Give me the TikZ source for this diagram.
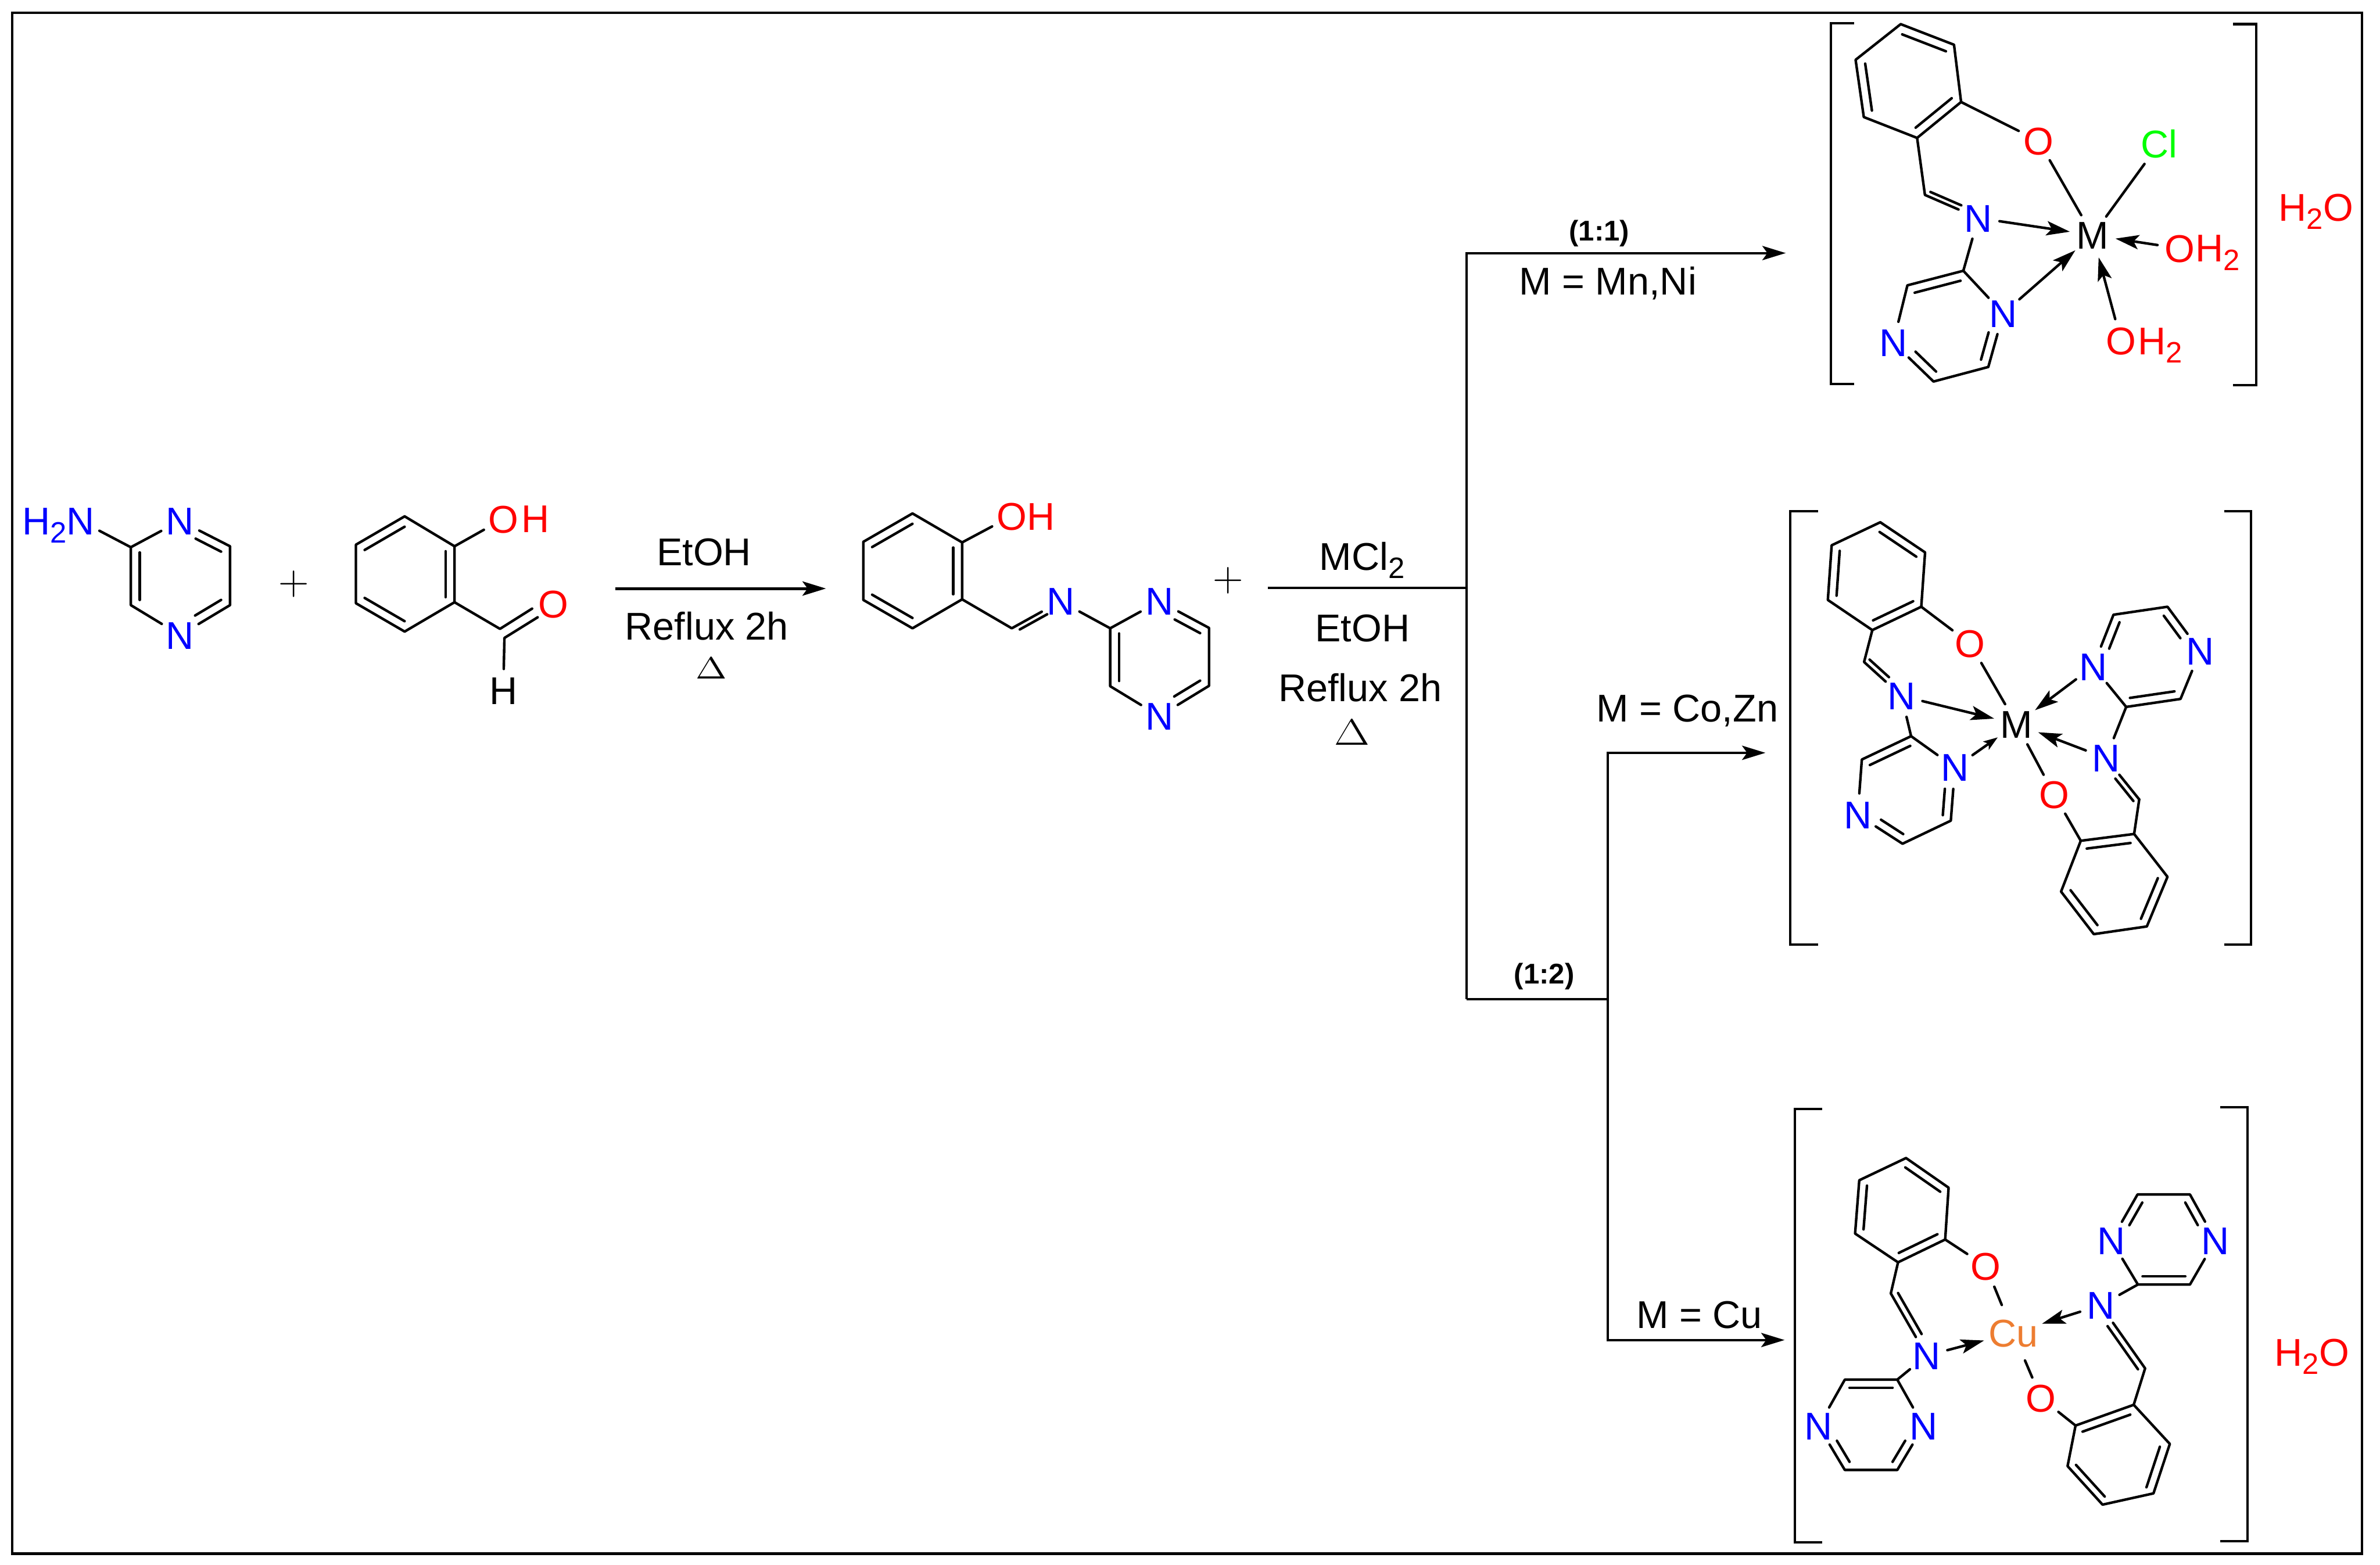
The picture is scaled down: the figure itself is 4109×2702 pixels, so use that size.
\documentclass[tikz,border=0pt]{standalone}
\usepackage{fontspec}
\setmainfont{Liberation Sans}
\usetikzlibrary{arrows.meta,calc}
\definecolor{cured}{RGB}{255,0,0}
\definecolor{cublue}{RGB}{0,0,255}
\definecolor{cugreen}{RGB}{0,255,0}
\definecolor{cuorange}{RGB}{237,125,49}
\newcommand\dn[1]{\raisebox{-4pt}{\fontsize{14.5pt}{14.5pt}\selectfont #1}}
\newcommand\inb[4][]{\draw[bond,#1] ($(#2)!.18!(#4)$) -- ($(#3)!.18!(#4)$);}
\newcommand\offl[3][]{\draw[bond,#1] ($(#2)!5.1pt!90:(#3)$) -- ($(#3)!5.1pt!-90:(#2)$);}
\newcommand\offr[3][]{\draw[bond,#1] ($(#2)!5.1pt!-90:(#3)$) -- ($(#3)!5.1pt!90:(#2)$);}
\tikzset{
  bond/.style={line width=1.25pt,line cap=round,line join=round},
  nb/.style={shorten >=8.5pt},
  ne/.style={shorten >=11pt,shorten <=1pt},
  coord/.style={line width=1.1pt,line join=miter},
  bracket/.style={line width=1.2pt,line join=miter},
  arr/.style={bond,-{Stealth[length=11.5pt,width=7pt,inset=2.5pt]}},
  arrs/.style={bond,-{Stealth[length=7pt,width=4.8pt,inset=1.5pt]}},
  cnarr/.style={coord,-{Stealth[length=11.5pt,width=7pt,inset=2.5pt]}},
  lab/.style={inner sep=0pt,font=\fontsize{19pt}{19pt}\selectfont},
  small/.style={inner sep=0pt,font=\bfseries\fontsize{14pt}{14pt}\selectfont},
  atom/.style={circle,inner sep=.5pt,text height=13.6pt,text depth=0pt,font=\fontsize{19pt}{19pt}\selectfont},
  Nat/.style={atom,text=cublue},
  Oat/.style={atom,text=cured},
}
\begin{document}
\begin{tikzpicture}[x=0.01cm,y=-0.01cm]
\useasboundingbox (0,0) rectangle (4109,2702);
\fill[white] (0,0) rectangle (4109,2702);
\draw[line width=1.3pt] (21,22) rectangle (4078,2683);

% ---------- reactants (crop 1)
\begin{scope}[shift={(0,780)},xscale=0.957,yscale=0.3333]
  \node[Nat] (an) at (145,358) {N};
  \node[lab,text=cublue,anchor=base west] (ah) at (40,430) {H\dn{2}};
  \node[Nat] (an3) at (325,358) {N};
  \node[Nat] (an4) at (325,950) {N};
  \path (236,495) coordinate (ac1) (236,795) coordinate (ac2) (415,795) coordinate (ac5) (415,490) coordinate (ac6);
  \coordinate (ar) at ($(ac1)!.5!(ac5)$);
  \draw[bond] (an) -- (ac1) (ac1) -- (an3) -- (ac6) -- (ac5) -- (an4) -- (ac2) -- (ac1);
  \inb{ac1}{ac2}{ar}
  \inb[nb]{ac6}{an3}{ar}
  \inb[nb]{ac5}{an4}{ar}
  \node[lab,font=\fontsize{22pt}{22pt}\selectfont] (plus1) at (530,685) {$+$};

  \path (730,335) coordinate (ba) (820,490) coordinate (bb) (820,780) coordinate (bc) (730,932) coordinate (bd) (642,785) coordinate (be) (642,482) coordinate (bf);
  \coordinate (br) at ($(ba)!.5!(bd)$);
  \draw[bond] (ba) -- (bb) -- (bc) -- (bd) -- (be) -- (bf) -- (ba);
  \inb{bf}{ba}{br}
  \inb{bb}{bc}{br}
  \inb{be}{bd}{br}
  \node[Oat] (bo) at (908,348) {O};
  \node[lab,text=cured,anchor=base west] (boh) at (940,418) {H};
  \draw[bond] (bb) -- (bo);
  \path (902,918) coordinate (cho1) (960,813) coordinate (choa) (910,965) coordinate (cho2) (970,858) coordinate (chob);
  \node[Oat] (cho) at (998,790) {O};
  \node[atom] (chh) at (908,1237) {H};
  \draw[bond] (bc) -- (cho1) -- (choa);
  \draw[bond] (chob) -- (cho2) -- (chh);

  \node[lab,anchor=base] (t1) at (1270,590) {EtOH};
  \node[lab,anchor=base] (t2) at (1275,975) {Reflux 2h};
  \node[lab,anchor=base,font=\fontsize{14pt}{14pt}\selectfont] (d1) at (1283,1178) {\scalebox{1.3}[1.05]{$\Delta$}};
  \coordinate (ra) at (1110,709);
  \coordinate (rb) at (1490,709);
  \draw[line width=1.4pt,-{Stealth[length=11.5pt,width=7pt,inset=2.5pt]}] (ra) -- (rb);
\end{scope}

% ---------- ligand (crop 2)
\begin{scope}[shift={(1420,780)},xscale=0.7653,yscale=0.3333]
  \path (203,320) coordinate (la) (315,470) coordinate (lb) (315,765) coordinate (lc) (203,915) coordinate (ld) (92,768) coordinate (le) (92,467) coordinate (lf);
  \coordinate (lr) at ($(la)!.5!(ld)$);
  \draw[bond] (la) -- (lb) -- (lc) -- (ld) -- (le) -- (lf) -- (la);
  \inb{lf}{la}{lr}
  \inb{lb}{lc}{lr}
  \inb{le}{ld}{lr}
  \node[Oat] (lo) at (427,333) {O};
  \node[lab,text=cured,anchor=base west] (loh) at (461,405) {H};
  \draw[bond] (lb) -- (lo);
  \coordinate (lim) at (427,915);
  \node[Nat] (ln) at (537,775) {N};
  \draw[bond] (lc) -- (lim) -- (ln);
  \offr[ne]{lim}{ln}
  \path (649,915) coordinate (p1) (649,1215) coordinate (p2) (872,1213) coordinate (p5) (872,913) coordinate (p6);
  \node[Nat] (pn3) at (760,775) {N};
  \node[Nat] (pn4) at (760,1370) {N};
  \coordinate (pr) at ($(p1)!.5!(p5)$);
  \draw[bond] (ln) -- (p1) -- (pn3) -- (p6) -- (p5) -- (pn4) -- (p2) -- (p1);
  \inb{p1}{p2}{pr}
  \inb[nb]{p6}{pn3}{pr}
  \inb[nb]{p5}{pn4}{pr}
  \node[lab,font=\fontsize{20pt}{20pt}\selectfont] (plus2) at (915,668) {$+$};
  \node[lab,anchor=base] (t3) at (1217,615) {MCl\dn{2}};
  \node[lab,anchor=base] (t4) at (1218,983) {EtOH};
  \node[lab,anchor=base] (t5) at (1213,1295) {Reflux 2h};
  \node[lab,anchor=base] (d2) at (1194,1520) {\scalebox{1.3}[1.05]{$\Delta$}};
\end{scope}

% ---------- branching lines
\path (2189,1015) coordinate (j0) (2532,1015) coordinate (j1) (2532,437) coordinate (j2) (3083,437) coordinate (j3)
      (2532,1725) coordinate (j4) (2776,1725) coordinate (j5) (2776,1300) coordinate (j6) (3048,1300) coordinate (j7)
      (2776,2314) coordinate (j8) (3081,2314) coordinate (j9);
\draw[coord] (j0) -- (j1);
\draw[cnarr] (j4) -- (j2) -- (j3);
\draw[coord] (j4) -- (j5);
\draw[cnarr] (j5) -- (j6) -- (j7);
\draw[cnarr] (j5) -- (j8) -- (j9);
\node[small,anchor=base] (r1) at (2761,416) {(1:1)};
\node[lab,anchor=base] (m1) at (2776,509) {M = Mn,Ni};
\node[lab,anchor=base] (m2) at (2913,1246) {M = Co,Zn};
\node[small,anchor=base] (r2) at (2666,1699) {(1:2)};
\node[lab,anchor=base] (m3) at (2934,2294) {M = Cu};

% ---------- complex 1 (crop 3)
\begin{scope}[shift={(3100,20)},xscale=0.6435,yscale=0.4337]
  \path (157,46) coordinate (k1) (95,46) coordinate (k2) (95,1482) coordinate (k3) (157,1482) coordinate (k4)
        (1174,50) coordinate (k5) (1236,50) coordinate (k6) (1236,1488) coordinate (k7) (1174,1488) coordinate (k8);
  \draw[bracket] (k1) -- (k2) -- (k3) -- (k4);
  \draw[bracket] (k5) -- (k6) -- (k7) -- (k8);
  \path (282,50) coordinate (ca) (425,132) coordinate (cb) (444,360) coordinate (cc) (326,503) coordinate (cd) (183,420) coordinate (ce) (161,192) coordinate (cf);
  \coordinate (cr) at ($(ca)!.5!(cd)$);
  \draw[bond] (ca) -- (cb) -- (cc) -- (cd) -- (ce) -- (cf) -- (ca);
  \inb{ca}{cb}{cr}
  \inb{cf}{ce}{cr}
  \inb{cc}{cd}{cr}
  \node[Oat] (co) at (652,515) {O};
  \node[atom] (cm) at (797,890) {M};
  \node[atom,text=cugreen] (ccl) at (975,527) {Cl};
  \node[Nat] (cn) at (490,822) {N};
  \coordinate (cim) at (347,730);
  \draw[bond] (cc) -- (co) -- (cm) -- (ccl);
  \draw[bond] (cd) -- (cim) -- (cn);
  \offl[ne]{cim}{cn}
  \draw[arr] (cn) -- (cm);
  \path (450,1032) coordinate (q1) (300,1090) coordinate (q2) (370,1473) coordinate (q4) (517,1415) coordinate (q5);
  \node[Nat] (qn3) at (262,1318) {N};
  \node[Nat] (qn6) at (557,1202) {N};
  \coordinate (qr) at ($(q2)!.5!(q5)$);
  \draw[bond] (cn) -- (q1) -- (q2) -- (qn3) -- (q4) -- (q5) -- (qn6) -- (q1);
  \inb{q1}{q2}{qr}
  \inb[nb]{q4}{qn3}{qr}
  \inb[nb]{q5}{qn6}{qr}
  \draw[arr] (qn6) -- (cm);
  \node[Oat] (cw1) at (1030,943) {O};
  \node[lab,text=cured,anchor=base west] (cw1h) at (1072,997) {H\dn{2}};
  \node[Oat] (cw2) at (873,1310) {O};
  \node[lab,text=cured,anchor=base west] (cw2h) at (917,1365) {H\dn{2}};
  \draw[arr] (cw1) -- (cm);
  \draw[arr] (cw2) -- (cm);
  \node[lab,text=cured,anchor=base west] (cwat) at (1295,835) {H\dn{2}O};
\end{scope}

% ---------- complex 2 (crop 4)
\begin{scope}[shift={(3080,860)},xscale=0.5485,yscale=0.5102]
  \path (107,45) coordinate (d1a) (20,45) coordinate (d1b) (20,1512) coordinate (d1c) (107,1512) coordinate (d1d)
        (1385,45) coordinate (d1e) (1470,45) coordinate (d1f) (1470,1512) coordinate (d1g) (1385,1512) coordinate (d1h);
  \draw[bracket] (d1a) -- (d1b) -- (d1c) -- (d1d);
  \draw[bracket] (d1e) -- (d1f) -- (d1g) -- (d1h);
  \path (303,82) coordinate (da) (444,184) coordinate (db) (432,368) coordinate (dc) (278,447) coordinate (dd) (138,345) coordinate (de) (150,160) coordinate (df);
  \coordinate (dr) at ($(da)!.5!(dd)$);
  \draw[bond] (da) -- (db) -- (dc) -- (dd) -- (de) -- (df) -- (da);
  \inb{da}{db}{dr}
  \inb{df}{de}{dr}
  \inb{dc}{dd}{dr}
  \node[atom] (dm) at (732,765) {M};
  \node[Oat] (do) at (586,493) {O};
  \node[Nat] (dn) at (370,670) {N};
  \coordinate (dim) at (252,555);
  \draw[bond] (dc) -- (do) -- (dm);
  \draw[bond] (dd) -- (dim) -- (dn);
  \offl[ne]{dim}{dn}
  \draw[arr] (dn) -- (dm);
  \path (400,806) coordinate (s1) (245,885) coordinate (s2) (373,1170) coordinate (s4) (525,1092) coordinate (s5);
  \node[Nat] (sn3) at (232,1072) {N};
  \node[Nat] (sn6) at (538,912) {N};
  \coordinate (sr) at ($(s2)!.5!(s5)$);
  \draw[bond] (dn) -- (s1) -- (s2) -- (sn3) -- (s4) -- (s5) -- (sn6) -- (s1);
  \inb{s1}{s2}{sr}
  \inb[nb]{s4}{sn3}{sr}
  \inb[nb]{s5}{sn6}{sr}
  \draw[arrs] (sn6) -- (dm);
  \path (1037,395) coordinate (u1) (1207,368) coordinate (u2) (1248,680) coordinate (u4) (1077,707) coordinate (u5);
  \node[Nat] (una) at (973,570) {N};
  \node[Nat] (unb) at (1310,518) {N};
  \coordinate (ur) at ($(u1)!.5!(u4)$);
  \draw[bond] (una) -- (u1) -- (u2) -- (unb) -- (u4) -- (u5) -- (una);
  \inb[nb]{u1}{una}{ur}
  \inb[nb]{u2}{unb}{ur}
  \inb{u4}{u5}{ur}
  \draw[arr] (una) -- (dm);
  \node[Nat] (unc) at (1013,880) {N};
  \draw[arr] (unc) -- (dm);
  \coordinate (vim) at (1118,1020);
  \draw[bond] (u5) -- (unc) -- (vim);
  \offl[ne]{vim}{unc}
  \path (1102,1137) coordinate (v1) (1207,1282) coordinate (v2) (1142,1450) coordinate (v3) (975,1476) coordinate (v4) (872,1332) coordinate (v5) (934,1160) coordinate (v6);
  \coordinate (vr) at ($(v1)!.5!(v4)$);
  \draw[bond] (vim) -- (v1) -- (v2) -- (v3) -- (v4) -- (v5) -- (v6) -- (v1);
  \inb{v1}{v6}{vr}
  \inb{v2}{v3}{vr}
  \inb{v4}{v5}{vr}
  \node[Oat] (vo) at (850,1003) {O};
  \draw[bond] (dm) -- (vo) -- (v6);
\end{scope}

% ---------- complex 3 (crop 5)
\begin{scope}[shift={(3080,1900)},xscale=0.6562,yscale=0.5115]
  \path (100,30) coordinate (e1a) (28,30) coordinate (e1b) (28,1493) coordinate (e1c) (100,1493) coordinate (e1d)
        (1147,24) coordinate (e1e) (1219,24) coordinate (e1f) (1219,1488) coordinate (e1g) (1147,1488) coordinate (e1h);
  \draw[bracket] (e1a) -- (e1b) -- (e1c) -- (e1d);
  \draw[bracket] (e1e) -- (e1f) -- (e1g) -- (e1h);
  \path (321,195) coordinate (ea) (433,295) coordinate (eb) (424,470) coordinate (ec) (300,547) coordinate (ed) (187,450) coordinate (ee) (198,270) coordinate (ef);
  \coordinate (er) at ($(ea)!.5!(ed)$);
  \draw[bond] (ea) -- (eb) -- (ec) -- (ed) -- (ee) -- (ef) -- (ea);
  \inb{ea}{eb}{er}
  \inb{ef}{ee}{er}
  \inb{ec}{ed}{er}
  \node[atom,text=cuorange] (ecu) at (603,785) {Cu};
  \node[Oat] (eo) at (531,560) {O};
  \node[Nat] (en) at (375,862) {N};
  \coordinate (eim) at (281,652);
  \draw[bond] (ec) -- (eo) -- (ecu);
  \draw[bond] (ed) -- (eim) -- (en);
  \offl[ne]{eim}{en}
  \draw[arr] (en) -- (ecu);
  \path (298,943) coordinate (w1) (160,943) coordinate (w2) (160,1248) coordinate (w4) (298,1248) coordinate (w5);
  \node[Nat] (wn3) at (91,1100) {N};
  \node[Nat] (wn6) at (367,1100) {N};
  \coordinate (wr) at ($(w1)!.5!(w4)$);
  \draw[bond] (en) -- (w1) -- (w2) -- (wn3) -- (w4) -- (w5) -- (wn6) -- (w1);
  \inb{w1}{w2}{wr}
  \inb[nb]{w4}{wn3}{wr}
  \inb[nb]{w5}{wn6}{wr}
  \path (767,1098) coordinate (g1) (920,1028) coordinate (g2) (1015,1160) coordinate (g3) (972,1327) coordinate (g4) (838,1365) coordinate (g5) (746,1235) coordinate (g6);
  \coordinate (gr) at ($(g1)!.5!(g4)$);
  \node[Oat] (go) at (676,1005) {O};
  \draw[bond] (ecu) -- (go) -- (g1) -- (g2) -- (g3) -- (g4) -- (g5) -- (g6) -- (g1);
  \inb{g1}{g2}{gr}
  \inb{g3}{g4}{gr}
  \inb{g5}{g6}{gr}
  \coordinate (gim) at (950,905);
  \node[Nat] (gn) at (833,692) {N};
  \draw[bond] (g2) -- (gim) -- (gn);
  \offl[ne]{gim}{gn}
  \draw[arr] (gn) -- (ecu);
  \path (931,622) coordinate (h1) (1068,622) coordinate (h2) (1068,318) coordinate (h4) (930,318) coordinate (h5);
  \node[Nat] (hnb) at (1135,473) {N};
  \node[Nat] (hna) at (861,473) {N};
  \coordinate (hr) at ($(h1)!.5!(h4)$);
  \draw[bond] (gn) -- (h1) -- (h2) -- (hnb) -- (h4) -- (h5) -- (hna) -- (h1);
  \inb{h1}{h2}{hr}
  \inb[nb]{h4}{hnb}{hr}
  \inb[nb]{h5}{hna}{hr}
  \node[lab,text=cured,anchor=base west] (ewat) at (1290,897) {H\dn{2}O};
\end{scope}
\end{tikzpicture}
\end{document}
